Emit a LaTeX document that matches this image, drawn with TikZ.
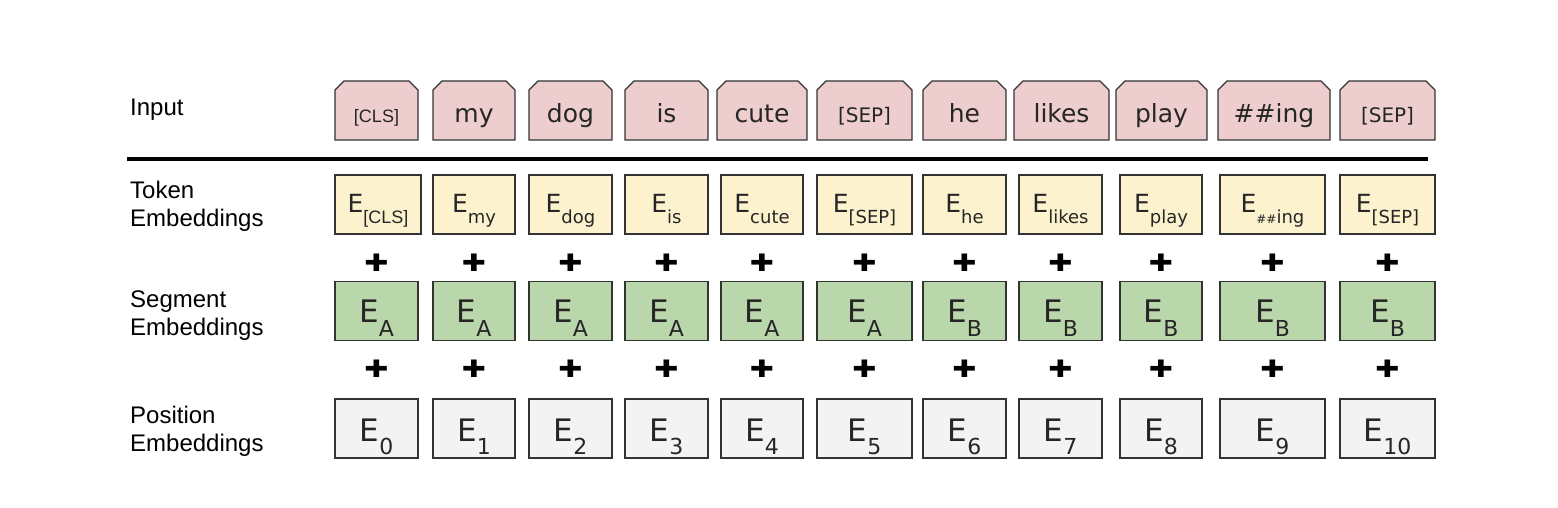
\documentclass[tikz,border=0pt]{standalone}
\usepackage{fontspec}
\setmainfont{Liberation Sans}
\newfontfamily\boxfont{DejaVu Sans}
\usetikzlibrary{shapes.misc}

\definecolor{inputRed}{HTML}{EDCDCD}
\definecolor{tokenYellow}{HTML}{FCF2CE}
\definecolor{segmentGreen}{HTML}{B9D7AA}
\definecolor{positionGray}{HTML}{F3F3F3}
\definecolor{boxLine}{HTML}{333333}

% E with a subscript, small for tokens and large for segments/positions
\newcommand{\tokE}[1]{E\raisebox{-11pt}{\fontsize{18}{18}\selectfont #1}}
\newcommand{\bigE}[1]{E\raisebox{-13.5pt}{\fontsize{22}{22}\selectfont #1}}

\begin{document}
\begin{tikzpicture}[x=1pt, y=-1pt,
  emb/.style={rectangle, draw=boxLine, line width=1.3pt, minimum height=59pt, inner sep=0pt, text=black!85, font=\boxfont},
  inbox/.style={chamfered rectangle, chamfered rectangle corners={north west, north east}, chamfered rectangle xsep=4pt, chamfered rectangle ysep=5pt, draw=boxLine, line width=1.3pt, fill=inputRed, minimum height=59pt, inner sep=0pt, text=black!85, font=\boxfont\fontsize{25}{25}\selectfont, text height=24.4pt, text depth=0pt},
  tokbox/.style={emb, fill=tokenYellow, font=\boxfont\fontsize{25}{25}\selectfont, text height=16.4pt, text depth=0pt},
  segbox/.style={emb, fill=segmentGreen, font=\boxfont\fontsize{31}{31}\selectfont, text height=23pt, text depth=0pt},
  posbox/.style={emb, fill=positionGray, font=\boxfont\fontsize{31}{31}\selectfont, text height=25pt, text depth=0pt},
  plus/.style={inner sep=0pt, font=\boxfont\fontsize{24}{24}\selectfont},
  rowlabel/.style={anchor=base west, inner sep=0pt, align=left, font=\fontsize{24}{27.8}\selectfont}]
\useasboundingbox (0,0) rectangle (1558,508);

%%%%%%%%%%%%%%%%%%%%%%%%%%%%%%% row labels (base = last line)
\node[rowlabel](lInput) at (130,115.7){Input};
\node[rowlabel](lToken) at (130,226.7){Token\\Embeddings};
\node[rowlabel](lSegment) at (130,335){Segment\\Embeddings};
\node[rowlabel](lPosition) at (130,451){Position\\Embeddings};

%%%%%%%%%%%%%%%%%%%%%%%%%%%%%%% input tokens
\node[inbox, minimum width=83pt](inCls) at (376.5,110.5){\rmfamily\fontsize{18}{18}\selectfont [CLS]};
\node[inbox, minimum width=82pt](inMy) at (474,110.5){my};
\node[inbox, minimum width=83pt](inDog) at (570.5,110.5){dog};
\node[inbox, minimum width=83pt](inIs) at (666.5,110.5){is};
\node[inbox, minimum width=90pt](inCute) at (762,110.5){cute};
\node[inbox, minimum width=95pt](inSepA) at (864.5,110.5){\fontsize{20}{20}\selectfont [SEP]};
\node[inbox, minimum width=83pt](inHe) at (964.5,110.5){he};
\node[inbox, minimum width=95pt](inLikes) at (1061.5,110.5){likes};
\node[inbox, minimum width=91pt](inPlay) at (1161.5,110.5){play};
\node[inbox, minimum width=112pt](inIng) at (1274,110.5){\#\#ing};
\node[inbox, minimum width=95pt](inSepB) at (1387.5,110.5){\fontsize{20}{20}\selectfont [SEP]};

% separator
\coordinate (sepL) at (127,159);
\coordinate (sepR) at (1428,159);
\draw[line width=3.5pt] (sepL) -- (sepR);

%%%%%%%%%%%%%%%%%%%%%%%%%%%%%%% token embeddings
\node[tokbox, minimum width=86pt](tokCls) at (378,204.5){\tokE{{\rmfamily\fontsize{18}{18}\selectfont [CLS]}}};
\node[tokbox, minimum width=82pt](tokMy) at (474,204.5){\tokE{my}};
\node[tokbox, minimum width=83pt](tokDog) at (570.5,204.5){\tokE{dog}};
\node[tokbox, minimum width=83pt](tokIs) at (666.5,204.5){\tokE{is}};
\node[tokbox, minimum width=82pt](tokCute) at (762,204.5){\tokE{cute}};
\node[tokbox, minimum width=95pt](tokSepA) at (864.5,204.5){\tokE{[SEP]}};
\node[tokbox, minimum width=83pt](tokHe) at (964.5,204.5){\tokE{he}};
\node[tokbox, minimum width=83pt](tokLikes) at (1060.5,204.5){\tokE{likes}};
\node[tokbox, minimum width=82pt](tokPlay) at (1161,204.5){\tokE{play}};
\node[tokbox, minimum width=105pt](tokIng) at (1272.5,204.5){\tokE{{\fontsize{12}{12}\selectfont\#\#}ing}};
\node[tokbox, minimum width=95pt](tokSepB) at (1387.5,204.5){\tokE{[SEP]}};

%%%%%%%%%%%%%%%%%%%%%%%%%%%%%%% plus signs (token + segment)
\node[plus](pA0) at (376.5,263){\scalebox{1.2}[1]{✚}};
\node[plus](pA1) at (474,263){\scalebox{1.2}[1]{✚}};
\node[plus](pA2) at (570.5,263){\scalebox{1.2}[1]{✚}};
\node[plus](pA3) at (666.5,263){\scalebox{1.2}[1]{✚}};
\node[plus](pA4) at (762,263){\scalebox{1.2}[1]{✚}};
\node[plus](pA5) at (864.5,263){\scalebox{1.2}[1]{✚}};
\node[plus](pA6) at (964.5,263){\scalebox{1.2}[1]{✚}};
\node[plus](pA7) at (1060.5,263){\scalebox{1.2}[1]{✚}};
\node[plus](pA8) at (1161,263){\scalebox{1.2}[1]{✚}};
\node[plus](pA9) at (1272.5,263){\scalebox{1.2}[1]{✚}};
\node[plus](pA10) at (1387.5,263){\scalebox{1.2}[1]{✚}};

%%%%%%%%%%%%%%%%%%%%%%%%%%%%%%% segment embeddings
\node[segbox, minimum width=83pt](seg0) at (376.5,311){\bigE{A}};
\node[segbox, minimum width=82pt](seg1) at (474,311){\bigE{A}};
\node[segbox, minimum width=83pt](seg2) at (570.5,311){\bigE{A}};
\node[segbox, minimum width=83pt](seg3) at (666.5,311){\bigE{A}};
\node[segbox, minimum width=82pt](seg4) at (762,311){\bigE{A}};
\node[segbox, minimum width=95pt](seg5) at (864.5,311){\bigE{A}};
\node[segbox, minimum width=83pt](seg6) at (964.5,311){\bigE{B}};
\node[segbox, minimum width=83pt](seg7) at (1060.5,311){\bigE{B}};
\node[segbox, minimum width=82pt](seg8) at (1161,311){\bigE{B}};
\node[segbox, minimum width=105pt](seg9) at (1272.5,311){\bigE{B}};
\node[segbox, minimum width=95pt](seg10) at (1387.5,311){\bigE{B}};

%%%%%%%%%%%%%%%%%%%%%%%%%%%%%%% plus signs (segment + position)
\node[plus](pB0) at (376.5,369){\scalebox{1.2}[1]{✚}};
\node[plus](pB1) at (474,369){\scalebox{1.2}[1]{✚}};
\node[plus](pB2) at (570.5,369){\scalebox{1.2}[1]{✚}};
\node[plus](pB3) at (666.5,369){\scalebox{1.2}[1]{✚}};
\node[plus](pB4) at (762,369){\scalebox{1.2}[1]{✚}};
\node[plus](pB5) at (864.5,369){\scalebox{1.2}[1]{✚}};
\node[plus](pB6) at (964.5,369){\scalebox{1.2}[1]{✚}};
\node[plus](pB7) at (1060.5,369){\scalebox{1.2}[1]{✚}};
\node[plus](pB8) at (1161,369){\scalebox{1.2}[1]{✚}};
\node[plus](pB9) at (1272.5,369){\scalebox{1.2}[1]{✚}};
\node[plus](pB10) at (1387.5,369){\scalebox{1.2}[1]{✚}};

%%%%%%%%%%%%%%%%%%%%%%%%%%%%%%% position embeddings
\node[posbox, minimum width=83pt](pos0) at (376.5,428.5){\bigE{0}};
\node[posbox, minimum width=82pt](pos1) at (474,428.5){\bigE{1}};
\node[posbox, minimum width=83pt](pos2) at (570.5,428.5){\bigE{2}};
\node[posbox, minimum width=83pt](pos3) at (666.5,428.5){\bigE{3}};
\node[posbox, minimum width=82pt](pos4) at (762,428.5){\bigE{4}};
\node[posbox, minimum width=95pt](pos5) at (864.5,428.5){\bigE{5}};
\node[posbox, minimum width=83pt](pos6) at (964.5,428.5){\bigE{6}};
\node[posbox, minimum width=83pt](pos7) at (1060.5,428.5){\bigE{7}};
\node[posbox, minimum width=82pt](pos8) at (1161,428.5){\bigE{8}};
\node[posbox, minimum width=105pt](pos9) at (1272.5,428.5){\bigE{9}};
\node[posbox, minimum width=95pt](pos10) at (1387.5,428.5){\bigE{10}};

\end{tikzpicture}
\end{document}
